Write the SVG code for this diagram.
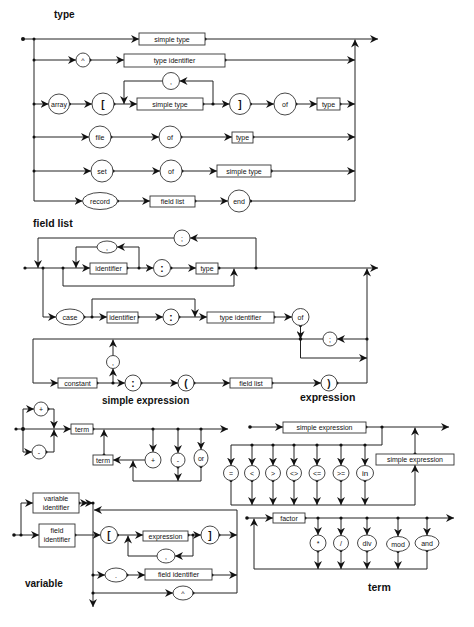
<svg xmlns="http://www.w3.org/2000/svg" width="474" height="627" viewBox="0 0 474 627">
<defs>
<marker id="ar" viewBox="0 0 8 8" markerWidth="8" markerHeight="8" refX="8" refY="4" orient="auto" markerUnits="userSpaceOnUse"><path d="M0,0 L8,4 L0,8 L2.5,4 z" fill="#111"/></marker>
<style>
.l{fill:none;stroke:#222;stroke-width:1}
.a{marker-end:url(#ar)}
.b{fill:#fff;stroke:#333;stroke-width:0.9}
.t{font-family:"Liberation Sans",Arial,sans-serif;font-size:7px;fill:#111;text-anchor:middle}
.k{font-size:10px;font-weight:bold}
.h{font-family:"Liberation Sans",Arial,sans-serif;font-size:10px;font-weight:bold;fill:#111}
.d{fill:#111}
</style>
</defs>
<rect width="474" height="627" fill="#fff"/>
<g id="titles">
<text class="h" x="54" y="18">type</text>
<text class="h" x="33" y="227" style="font-size:10.5px">field list</text>
<text class="h" x="102" y="404">simple expression</text>
<text class="h" x="300" y="401" style="font-size:10.5px">expression</text>
<text class="h" x="25" y="587">variable</text>
<text class="h" x="368" y="591" style="font-size:10.5px">term</text>
</g>
<g id="connectors">
<!-- type -->
<path class="l a" d="M23,39 H139"/>
<path class="l a" d="M205,39 H378"/>
<path class="l a" d="M34,39 V201 H82.5"/>
<path class="l a" d="M34,60 H76"/>
<path class="l a" d="M90,60 H124"/>
<path class="l a" d="M225,60 H355"/>
<path class="l a" d="M34,104 H48.5"/>
<path class="l a" d="M69.5,104 H92"/>
<path class="l a" d="M114,104 H137"/>
<path class="l a" d="M203,104 H229.5"/>
<path class="l a" d="M250.5,104 H274"/>
<path class="l a" d="M296,104 H317"/>
<path class="l a" d="M340,104 H355"/>
<path class="l a" d="M213,104 V81 H179.5"/>
<path class="l a" d="M162.5,81 H124 V104"/>
<path class="l a" d="M34,137 H89"/>
<path class="l a" d="M111,137 H159"/>
<path class="l a" d="M181,137 H232"/>
<path class="l a" d="M253,137 H355"/>
<path class="l a" d="M34,171 H91"/>
<path class="l a" d="M113,171 H160"/>
<path class="l a" d="M182,171 H217"/>
<path class="l a" d="M271,171 H355"/>
<path class="l a" d="M117.5,201 H150"/>
<path class="l a" d="M195,201 H228"/>
<path class="l a" d="M250,201 H355 V39.5"/>
<circle class="d" cx="23" cy="39" r="2"/><circle class="d" cx="34" cy="39" r="1.5"/>
<circle class="d" cx="205" cy="39" r="1.6"/>
<circle class="d" cx="34" cy="60" r="1.5"/><circle class="d" cx="90" cy="60" r="1.5"/><circle class="d" cx="225" cy="60" r="1.6"/>
<circle class="d" cx="34" cy="104" r="1.5"/><circle class="d" cx="69.5" cy="104" r="1.5"/><circle class="d" cx="114" cy="104" r="1.5"/><circle class="d" cx="203" cy="104" r="1.5"/><circle class="d" cx="213" cy="104" r="1.6"/><circle class="d" cx="250.5" cy="104" r="1.5"/><circle class="d" cx="296" cy="104" r="1.5"/><circle class="d" cx="340" cy="104" r="1.6"/><circle class="d" cx="179.5" cy="81" r="0"/>
<circle class="d" cx="34" cy="137" r="1.5"/><circle class="d" cx="111" cy="137" r="1.5"/><circle class="d" cx="181" cy="137" r="1.5"/><circle class="d" cx="253" cy="137" r="1.5"/>
<circle class="d" cx="34" cy="171" r="1.5"/><circle class="d" cx="113" cy="171" r="1.6"/><circle class="d" cx="182" cy="171" r="1.5"/><circle class="d" cx="271" cy="171" r="1.7"/>
<circle class="d" cx="117.5" cy="201" r="1.5"/><circle class="d" cx="195" cy="201" r="1.5"/><circle class="d" cx="250.5" cy="201" r="1.6"/>
<!-- field list -->
<path class="l a" d="M256,268 V238 H190"/>
<path class="l a" d="M174,238 H38 V268"/>
<path class="l a" d="M139,268 V247 H117"/>
<path class="l a" d="M97,247 H76 V268"/>
<path class="l a" d="M25,268 H90"/>
<path class="l a" d="M127,268 H153.5"/>
<path class="l a" d="M170.5,268 H196"/>
<path class="l a" d="M218,268 H378"/>
<path class="l a" d="M63,268 V286 H234 V268.5"/>
<path class="l a" d="M43,268 V317 H56"/>
<path class="l a" d="M84,317 H107"/>
<path class="l a" d="M92,317 V299 H195 V317"/>
<path class="l a" d="M138,317 H163"/>
<path class="l a" d="M179,317 H207"/>
<path class="l a" d="M274,317 H292"/>
<path class="l a" d="M300.5,325.5 V339"/>
<path class="l a" d="M367,339 H337"/>
<path class="l a" d="M323,339 H33 V383 H58"/>
<path class="l a" d="M300.5,339 V358 H367"/>
<path class="l a" d="M97,383 H125"/>
<path class="l a" d="M141,383 H178"/>
<path class="l a" d="M194,383 H230"/>
<path class="l a" d="M272,383 H321"/>
<path class="l a" d="M337,383 H367 V268.5"/>
<path class="l a" d="M113,383 V368.5"/>
<path class="l a" d="M113,355.5 V339.5"/>
<circle class="d" cx="25" cy="268" r="1.6"/><circle class="d" cx="43" cy="268" r="1.5"/><circle class="d" cx="63" cy="268" r="1.5"/><circle class="d" cx="127" cy="268" r="1.5"/><circle class="d" cx="139" cy="268" r="1.5"/><circle class="d" cx="171" cy="268" r="1.5"/><circle class="d" cx="219" cy="268" r="1.5"/><circle class="d" cx="256" cy="268" r="1.6"/>
<circle class="d" cx="84" cy="317" r="1.5"/><circle class="d" cx="92" cy="317" r="1.5"/><circle class="d" cx="138" cy="317" r="1.5"/><circle class="d" cx="179" cy="317" r="1.5"/><circle class="d" cx="274" cy="317" r="1.6"/><circle class="d" cx="300.5" cy="325.5" r="1.6"/>
<circle class="d" cx="367" cy="339" r="1.6"/><circle class="d" cx="300.5" cy="339" r="1.8"/>
<circle class="d" cx="97" cy="383" r="1.5"/><circle class="d" cx="113" cy="383" r="1.6"/><circle class="d" cx="141" cy="383" r="1.5"/><circle class="d" cx="194" cy="383" r="1.5"/><circle class="d" cx="272" cy="383" r="1.5"/><circle class="d" cx="337" cy="383" r="1.5"/>
<!-- simple expression -->
<path class="l a" d="M16,429 H71"/>
<path class="l a" d="M23,429 V409 H34"/>
<path class="l a" d="M48,409 H54 V428.5"/>
<path class="l a" d="M23,429 V452 H32"/>
<path class="l a" d="M46,452 H54 V429.5"/>
<path class="l a" d="M93,429 H228"/>
<path class="l a" d="M153,429 V452"/>
<path class="l a" d="M178,429 V453"/>
<path class="l a" d="M201,429 V449.5"/>
<path class="l a" d="M145,460 H113"/>
<path class="l a" d="M104,455 V429.5"/>
<path class="l a" d="M178,467 V481"/>
<path class="l a" d="M201,466.5 V481 H133 V460.5"/>
<circle class="d" cx="16" cy="429" r="1.6"/><circle class="d" cx="23" cy="429" r="2"/><circle class="d" cx="48" cy="409" r="1.5"/><circle class="d" cx="46" cy="452" r="1.5"/><circle class="d" cx="93" cy="429" r="1.5"/>
<circle class="d" cx="153" cy="429" r="1.6"/><circle class="d" cx="178" cy="429" r="1.6"/><circle class="d" cx="201" cy="429" r="1.6"/><circle class="d" cx="104" cy="455" r="1.5"/><circle class="d" cx="178" cy="467" r="1.5"/><circle class="d" cx="201" cy="466.5" r="1.5"/>
<!-- expression -->
<path class="l a" d="M250,427 H283"/>
<path class="l a" d="M366,427 H449"/>
<path class="l a" d="M382,427 V445 H231 V465.5"/>
<path class="l a" d="M252,445 V465.5"/>
<path class="l a" d="M273,445 V465.5"/>
<path class="l a" d="M294,445 V465.5"/>
<path class="l a" d="M317,445 V465.5"/>
<path class="l a" d="M341,445 V465.5"/>
<path class="l a" d="M365,445 V465.5"/>
<path class="l a" d="M252,480.5 V505"/>
<path class="l a" d="M273,480.5 V505"/>
<path class="l a" d="M294,480.5 V505"/>
<path class="l a" d="M317,480.5 V505"/>
<path class="l a" d="M341,480.5 V505"/>
<path class="l a" d="M365,480.5 V505"/>
<path class="l a" d="M231,480.5 V505 H415 V465"/>
<path class="l a" d="M415,454 V427.5"/>
<circle class="d" cx="250" cy="427" r="1.8"/><circle class="d" cx="366" cy="427" r="1.5"/><circle class="d" cx="382" cy="427" r="1.6"/>
<circle class="d" cx="252" cy="445" r="1.6"/><circle class="d" cx="273" cy="445" r="1.6"/><circle class="d" cx="294" cy="445" r="1.6"/><circle class="d" cx="317" cy="445" r="1.6"/><circle class="d" cx="341" cy="445" r="1.6"/><circle class="d" cx="365" cy="445" r="1.6"/>
<circle class="d" cx="231" cy="480.5" r="1.5"/><circle class="d" cx="252" cy="480.5" r="1.5"/><circle class="d" cx="273" cy="480.5" r="1.5"/><circle class="d" cx="294" cy="480.5" r="1.5"/><circle class="d" cx="317" cy="480.5" r="1.5"/><circle class="d" cx="341" cy="480.5" r="1.5"/><circle class="d" cx="365" cy="480.5" r="1.5"/><circle class="d" cx="415" cy="454" r="1.6"/>
<!-- term -->
<path class="l a" d="M247,518 H273"/>
<path class="l a" d="M305,518 H454"/>
<path class="l a" d="M427,550.5 V569 H254 V518.5"/>
<path class="l a" d="M318,518 V535"/>
<path class="l a" d="M341,518 V535.5"/>
<path class="l a" d="M367,518 V535"/>
<path class="l a" d="M398,518 V536.5"/>
<path class="l a" d="M427,518 V535.5"/>
<path class="l a" d="M318,551 V569"/>
<path class="l a" d="M341,550.5 V569"/>
<path class="l a" d="M367,551 V569"/>
<path class="l a" d="M398,551.5 V569"/>
<circle class="d" cx="247" cy="518" r="1.8"/><circle class="d" cx="305" cy="518" r="1.5"/>
<circle class="d" cx="318" cy="518" r="1.6"/><circle class="d" cx="341" cy="518" r="1.6"/><circle class="d" cx="367" cy="518" r="1.6"/><circle class="d" cx="398" cy="518" r="1.6"/><circle class="d" cx="427" cy="518" r="1.6"/>
<circle class="d" cx="318" cy="551" r="1.5"/><circle class="d" cx="341" cy="550.5" r="1.5"/><circle class="d" cx="367" cy="551" r="1.5"/><circle class="d" cx="398" cy="551.5" r="1.5"/><circle class="d" cx="427" cy="550.5" r="1.5"/>
<!-- variable -->
<path class="l a" d="M14,535 H39"/>
<path class="l a" d="M21,535 V503 H33"/>
<path class="l a" d="M79,503 H88"/>
<path class="l a" d="M88,503 H93"/>
<path class="l a" d="M93,503 V607"/>
<path class="l a" d="M75,535 H100.5"/>
<path class="l a" d="M117.5,535 H143"/>
<path class="l a" d="M188,535 H201"/>
<path class="l a" d="M219,535 H237"/>
<path class="l a" d="M193,535 V556 H175"/>
<path class="l a" d="M157,556 H128 V535.5"/>
<path class="l a" d="M93,575 H105"/>
<path class="l a" d="M127,575 H145"/>
<path class="l a" d="M212,575 H237"/>
<path class="l a" d="M93,593 H173"/>
<path class="l a" d="M193,593 H237 V510 H94"/>
<circle class="d" cx="14" cy="535" r="1.8"/><circle class="d" cx="21" cy="535" r="1.6"/><circle class="d" cx="79" cy="503" r="1.5"/><circle class="d" cx="93" cy="503" r="1.6"/><circle class="d" cx="75" cy="535" r="1.5"/>
<circle class="d" cx="117.5" cy="535" r="1.5"/><circle class="d" cx="188" cy="535" r="1.5"/><circle class="d" cx="193" cy="535" r="1.5"/><circle class="d" cx="219" cy="535" r="1.5"/>
<circle class="d" cx="93" cy="575" r="1.6"/><circle class="d" cx="127" cy="575" r="1.5"/><circle class="d" cx="212" cy="575" r="1.5"/><circle class="d" cx="93" cy="593" r="1.6"/><circle class="d" cx="193" cy="593" r="1.5"/>
</g>
<!-- type nodes -->
<g id="t-simple"><rect class="b" x="139" y="33" width="66" height="12"/><text class="t" x="172" y="41.5">simple type</text></g>
<g id="t-caret"><circle class="b" cx="83" cy="60" r="7"/><text class="t" x="83" y="62.5">^</text></g>
<g id="t-typeid"><rect class="b" x="124" y="54" width="101" height="13"/><text class="t" x="174.5" y="63">type identifier</text></g>
<g id="t-array"><ellipse class="b" cx="59" cy="104" rx="10.5" ry="10"/><text class="t" x="59" y="106.5">array</text></g>
<g id="t-lbr"><circle class="b" cx="103" cy="104" r="11"/><text class="t k" x="103" y="107.5">[</text></g>
<g id="t-simple2"><rect class="b" x="137" y="98" width="66" height="12"/><text class="t" x="170" y="106.5">simple type</text></g>
<g id="t-comma"><circle class="b" cx="171" cy="81" r="8.5"/><text class="t" x="171" y="83.5">,</text></g>
<g id="t-rbr"><circle class="b" cx="240" cy="104" r="10.5"/><text class="t k" x="240" y="107.5">]</text></g>
<g id="t-of1"><circle class="b" cx="285" cy="104" r="11"/><text class="t" x="285" y="106.5">of</text></g>
<g id="t-type1"><rect class="b" x="317" y="98" width="23" height="12"/><text class="t" x="328.5" y="106.5">type</text></g>
<g id="t-file"><circle class="b" cx="100" cy="137" r="11"/><text class="t" x="100" y="139.5">file</text></g>
<g id="t-of2"><circle class="b" cx="170" cy="137" r="11"/><text class="t" x="170" y="139.5">of</text></g>
<g id="t-type2"><rect class="b" x="232" y="132" width="21" height="11"/><text class="t" x="242.5" y="140">type</text></g>
<g id="t-set"><circle class="b" cx="102" cy="171" r="11"/><text class="t" x="102" y="173.5">set</text></g>
<g id="t-of3"><circle class="b" cx="171" cy="171" r="11"/><text class="t" x="171" y="173.5">of</text></g>
<g id="t-simple3"><rect class="b" x="217" y="165" width="54" height="12"/><text class="t" x="244" y="173.5">simple type</text></g>
<g id="t-record"><ellipse class="b" cx="100" cy="201" rx="17.5" ry="8.5"/><text class="t" x="100" y="203.5">record</text></g>
<g id="t-fieldlist"><rect class="b" x="150" y="196" width="45" height="11"/><text class="t" x="172.5" y="204">field list</text></g>
<g id="t-end"><circle class="b" cx="239" cy="201" r="11"/><text class="t" x="239" y="203.5">end</text></g>
<!-- field list nodes -->
<g id="f-semi1"><circle class="b" cx="182" cy="238" r="8"/><text class="t" x="182" y="240.5">;</text></g>
<g id="f-comma1"><ellipse class="b" cx="107" cy="247" rx="10" ry="6"/><text class="t" x="107" y="249.5">,</text></g>
<g id="f-ident"><rect class="b" x="90" y="263" width="37" height="11"/><text class="t" x="108.5" y="271">identifier</text></g>
<g id="f-colon1"><circle class="b" cx="162" cy="268" r="8.5"/><text class="t k" x="162" y="271.5">:</text></g>
<g id="f-type"><rect class="b" x="196" y="263" width="22" height="11"/><text class="t" x="207" y="271">type</text></g>
<g id="f-case"><ellipse class="b" cx="70" cy="317" rx="14" ry="8"/><text class="t" x="70" y="319.5">case</text></g>
<g id="f-ident2"><rect class="b" x="107" y="312" width="31" height="11"/><text class="t" x="122.5" y="320">identifier</text></g>
<g id="f-colon2"><circle class="b" cx="171" cy="317" r="8"/><text class="t k" x="171" y="320.5">:</text></g>
<g id="f-typeid"><rect class="b" x="207" y="312" width="67" height="11"/><text class="t" x="240.5" y="320">type identifier</text></g>
<g id="f-of"><circle class="b" cx="300.5" cy="317" r="8.5"/><text class="t" x="300.5" y="319.5">of</text></g>
<g id="f-semi2"><circle class="b" cx="330" cy="339" r="7"/><text class="t" x="330" y="341.5">;</text></g>
<g id="f-constant"><rect class="b" x="58" y="378" width="39" height="10"/><text class="t" x="77.5" y="385.5">constant</text></g>
<g id="f-comma2"><circle class="b" cx="113" cy="362" r="6.5"/><text class="t" x="113" y="364.5">,</text></g>
<g id="f-colon3"><circle class="b" cx="133" cy="383" r="8"/><text class="t k" x="133" y="386.5">:</text></g>
<g id="f-lpar"><circle class="b" cx="186" cy="383" r="8"/><text class="t k" x="186" y="386.5">(</text></g>
<g id="f-fieldlist"><rect class="b" x="230" y="378" width="42" height="10"/><text class="t" x="251" y="385.5">field list</text></g>
<g id="f-rpar"><circle class="b" cx="329" cy="383" r="8"/><text class="t k" x="329" y="386.5">)</text></g>
<!-- simple expression nodes -->
<g id="s-plus1"><circle class="b" cx="41" cy="409" r="7"/><text class="t" x="41" y="411.5">+</text></g>
<g id="s-minus1"><circle class="b" cx="39" cy="452" r="7"/><text class="t" x="39" y="454.5">-</text></g>
<g id="s-term1"><rect class="b" x="71" y="424" width="22" height="10"/><text class="t" x="82" y="431.5">term</text></g>
<g id="s-term2"><rect class="b" x="93" y="455" width="20" height="10"/><text class="t" x="103" y="462.5">term</text></g>
<g id="s-plus2"><circle class="b" cx="153" cy="460" r="8"/><text class="t" x="153" y="462.5">+</text></g>
<g id="s-minus2"><circle class="b" cx="178" cy="460" r="7"/><text class="t" x="178" y="462.5">-</text></g>
<g id="s-or"><ellipse class="b" cx="201" cy="458" rx="7" ry="8.5"/><text class="t" x="201" y="460.5">or</text></g>
<!-- expression nodes -->
<g id="e-simple1"><rect class="b" x="283" y="422" width="83" height="11"/><text class="t" x="324.5" y="430">simple expression</text></g>
<g id="e-eq"><ellipse class="b" cx="231" cy="473" rx="7.5" ry="7.5"/><text class="t" x="231" y="475.5">=</text></g>
<g id="e-lt"><ellipse class="b" cx="252" cy="473" rx="7.5" ry="7.5"/><text class="t" x="252" y="475.5">&lt;</text></g>
<g id="e-gt"><ellipse class="b" cx="273" cy="473" rx="7.5" ry="7.5"/><text class="t" x="273" y="475.5">&gt;</text></g>
<g id="e-ne"><ellipse class="b" cx="294" cy="473" rx="7.5" ry="7.5"/><text class="t" x="294" y="475.5">&lt;&gt;</text></g>
<g id="e-le"><ellipse class="b" cx="317" cy="473" rx="8" ry="7.5"/><text class="t" x="317" y="475.5">&lt;=</text></g>
<g id="e-ge"><ellipse class="b" cx="341" cy="473" rx="8" ry="7.5"/><text class="t" x="341" y="475.5">&gt;=</text></g>
<g id="e-in"><ellipse class="b" cx="365" cy="473" rx="8.5" ry="7.5"/><text class="t" x="365" y="475.5" style="font-size:8px">in</text></g>
<g id="e-simple2"><rect class="b" x="376" y="454" width="78" height="11"/><text class="t" x="415" y="462">simple expression</text></g>
<!-- term nodes -->
<g id="m-factor"><rect class="b" x="273" y="513" width="32" height="10"/><text class="t" x="289" y="520.5">factor</text></g>
<g id="m-mul"><circle class="b" cx="318" cy="543" r="8"/><text class="t" x="318" y="545.5">*</text></g>
<g id="m-slash"><circle class="b" cx="341" cy="543" r="7.5"/><text class="t" x="341" y="545.5">/</text></g>
<g id="m-div"><ellipse class="b" cx="367" cy="543" rx="9.5" ry="8"/><text class="t" x="367" y="545.5">div</text></g>
<g id="m-mod"><ellipse class="b" cx="398" cy="544" rx="11.5" ry="7.5"/><text class="t" x="398" y="546.5">mod</text></g>
<g id="m-and"><ellipse class="b" cx="427" cy="543" rx="12" ry="7.5"/><text class="t" x="427" y="545.5">and</text></g>
<!-- variable nodes -->
<g id="v-varid"><rect class="b" x="33" y="493" width="46" height="20"/><text class="t" x="56" y="501">variable</text><text class="t" x="56" y="510">identifier</text></g>
<g id="v-fieldid"><rect class="b" x="39" y="524" width="36" height="23"/><text class="t" x="57" y="533">field</text><text class="t" x="57" y="542">identifier</text></g>
<g id="v-lbr"><circle class="b" cx="109" cy="535" r="8.5"/><text class="t k" x="109" y="538.5">[</text></g>
<g id="v-expr"><rect class="b" x="143" y="531" width="45" height="10"/><text class="t" x="165.5" y="538.5">expression</text></g>
<g id="v-rbr"><circle class="b" cx="210" cy="535" r="9"/><text class="t k" x="210" y="538.5">]</text></g>
<g id="v-comma"><ellipse class="b" cx="166" cy="556" rx="9" ry="7"/><text class="t" x="166" y="558.5">,</text></g>
<g id="v-dot"><ellipse class="b" cx="116" cy="575" rx="11" ry="7"/><text class="t" x="116" y="577.5">.</text></g>
<g id="v-fieldid2"><rect class="b" x="145" y="569" width="67" height="11"/><text class="t" x="178.5" y="577">field identifier</text></g>
<g id="v-caret"><ellipse class="b" cx="183" cy="593" rx="10" ry="7"/><text class="t" x="183" y="595.5">^</text></g>
</svg>
